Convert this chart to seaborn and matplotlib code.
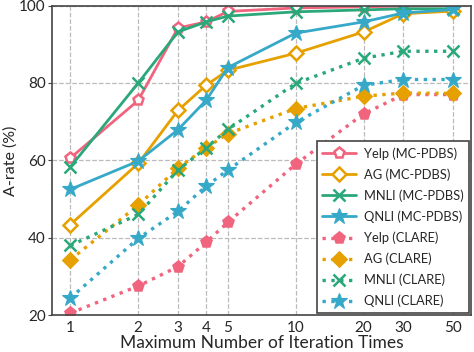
import numpy as np
import pandas as pd
import matplotlib
matplotlib.use("Agg")
import matplotlib.pyplot as plt
import seaborn as sns

iterations = [1, 2, 3, 4, 5, 10, 20, 30, 50]

yelp_mc = [60.6, 75.5, 94.2, 95.8, 98.5, 99.4, 99.7, 99.9, 100.0]
ag_mc = [43.4, 59.2, 72.9, 79.4, 83.3, 87.7, 93.2, 97.9, 98.6]
mnli_mc = [58.3, 80.0, 93.2, 95.8, 97.3, 98.4, 98.9, 99.2, 99.2]
qnli_mc = [52.5, 59.8, 67.9, 75.5, 84.0, 92.9, 95.8, 98.1, 99.0]

yelp_clare = [20.5, 27.5, 32.5, 38.8, 44.0, 59.0, 72.0, 77.0, 77.0]
ag_clare = [34.3, 48.4, 58.0, 63.2, 66.9, 73.4, 76.6, 77.4, 77.3]
mnli_clare = [38.0, 46.0, 57.5, 63.2, 68.0, 79.9, 86.4, 88.2, 88.2]
qnli_clare = [24.4, 39.8, 46.8, 53.3, 57.5, 69.8, 79.4, 80.9, 80.9]

datasets = ["Yelp", "AG", "MNLI", "QNLI"]
colors = ["#f0647e", "#e6a000", "#2aa87a", "#36a9c9"]
markers = ["p", "D", "x", "*"]
msizes = [8, 7, 8, 12]
hollow_ok = [True, True, False, False]

sns.set_style("white")
plt.rcParams["font.family"] = ["Lato", "DejaVu Sans"]

fig, ax = plt.subplots(figsize=(4.74, 3.52), dpi=100)
fig.subplots_adjust(left=0.11, right=0.994, top=0.984, bottom=0.105)

series = [
    ("MC-PDBS", [yelp_mc, ag_mc, mnli_mc, qnli_mc]),
    ("CLARE", [yelp_clare, ag_clare, mnli_clare, qnli_clare]),
]

for method, values in series:
    for name, vals, c, m, ms, h in zip(datasets, values, colors, markers, msizes, hollow_ok):
        df = pd.DataFrame({"it": iterations, "rate": vals})
        solid = method == "MC-PDBS"
        sns.lineplot(
            data=df, x="it", y="rate", ax=ax, color=c,
            linestyle="-" if solid else ":",
            linewidth=2.0 if solid else 2.4,
            marker=m, markersize=ms,
            markerfacecolor="white" if (solid and h) else c,
            markeredgecolor=c,
            markeredgewidth=1.8 if m != "*" else 0.8,
            label=f"{name} ({method})",
        )

ax.set_xscale("log")
ax.set_xlim(0.83, 60)
ax.set_ylim(20, 100)
ax.set_xticks(iterations)
ax.set_xticklabels([str(i) for i in iterations])
ax.minorticks_off()
ax.set_yticks([20, 40, 60, 80, 100])
ax.tick_params(axis="both", labelsize=11, length=3, pad=1.5, color="#444444")
ax.tick_params(axis="y", left=True)
ax.set_xlabel("Maximum Number of Iteration Times", fontsize=12.5, labelpad=0)
ax.set_ylabel("A-rate (%)", fontsize=11.5, labelpad=1)
ax.grid(True, linestyle="--", color="#bbbbbb", linewidth=0.9)
for sp in ax.spines.values():
    sp.set_color("#444444")
    sp.set_linewidth(1.2)

leg = ax.legend(loc="lower right", fontsize=9.3, fancybox=False, framealpha=1,
                edgecolor="#444444", handlelength=2.6, handletextpad=0.6,
                borderpad=0.45, labelspacing=0.66, borderaxespad=0.15)
leg.get_frame().set_linewidth(1.2)

fig.savefig("out.png", dpi=100)
